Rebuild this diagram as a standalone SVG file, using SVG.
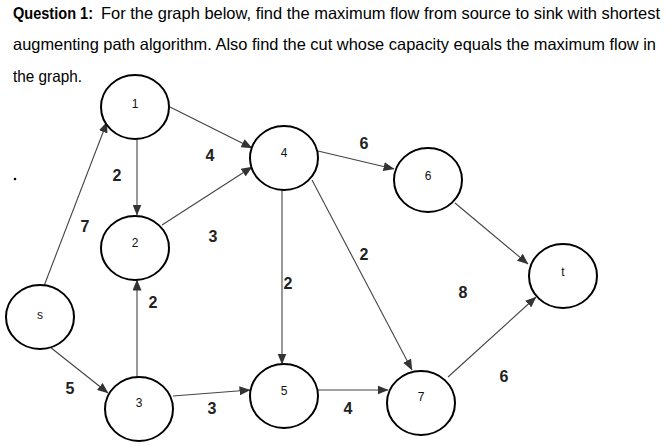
<svg xmlns="http://www.w3.org/2000/svg" width="668" height="446" viewBox="0 0 668 446">
<style>
.hd{font-family:"Liberation Sans Narrow","Liberation Sans",Arial,sans-serif;font-size:16.5px;fill:#000}
.node ellipse{fill:#fff;stroke:#000;stroke-width:2}
.node text{font-family:"Liberation Sans",Arial,sans-serif;font-size:12px;fill:#111;text-anchor:middle}
.edge line{stroke:#444;stroke-width:1.1;marker-end:url(#arr)}
.lbl{font-family:"Liberation Sans",Arial,sans-serif;font-size:16px;font-weight:bold;fill:#222;text-anchor:middle}
</style>
<defs>
<marker id="arr" markerUnits="userSpaceOnUse" markerWidth="11" markerHeight="9" refX="10.5" refY="4.5" orient="auto">
<path d="M0,0 L11,4.5 L0,9 z" fill="#333"/>
</marker>
</defs>
<rect width="668" height="446" fill="#fff"/>
<g id="header">
<text class="hd" x="13" y="19" font-weight="bold" textLength="80" lengthAdjust="spacingAndGlyphs">Question 1:</text>
<text class="hd" x="101" y="19" textLength="559" lengthAdjust="spacingAndGlyphs">For the graph below, find the maximum flow from source to sink with shortest</text>
<text class="hd" x="13" y="50" textLength="643" lengthAdjust="spacingAndGlyphs">augmenting path algorithm. Also find the cut whose capacity equals the maximum flow in</text>
<text class="hd" x="13" y="82" textLength="69" lengthAdjust="spacingAndGlyphs">the graph.</text>
<circle cx="15" cy="179" r="1.3" fill="#000"/>
</g>
<g id="connectors" class="edge">
<line x1="44" y1="286" x2="107" y2="122"/>
<line x1="137" y1="139" x2="137" y2="215"/>
<line x1="170" y1="107" x2="252" y2="148"/>
<line x1="162" y1="225" x2="252" y2="167"/>
<line x1="318" y1="151" x2="394" y2="169"/>
<line x1="455" y1="203" x2="528" y2="264"/>
<line x1="282" y1="190" x2="282" y2="364"/>
<line x1="312" y1="180" x2="412" y2="370"/>
<line x1="50" y1="347" x2="108" y2="393"/>
<line x1="137" y1="377" x2="137" y2="280"/>
<line x1="173" y1="396" x2="250" y2="390"/>
<line x1="318" y1="390" x2="388" y2="390"/>
<line x1="448" y1="377" x2="536" y2="297"/>
</g>
<g id="edge-labels">
<text class="lbl" x="85" y="232">7</text>
<text class="lbl" x="117" y="181">2</text>
<text class="lbl" x="210" y="161">4</text>
<text class="lbl" x="213" y="242">3</text>
<text class="lbl" x="364" y="149">6</text>
<text class="lbl" x="364" y="260">2</text>
<text class="lbl" x="288" y="289">2</text>
<text class="lbl" x="463" y="298">8</text>
<text class="lbl" x="153" y="308">2</text>
<text class="lbl" x="70" y="394">5</text>
<text class="lbl" x="212" y="414">3</text>
<text class="lbl" x="348" y="414">4</text>
<text class="lbl" x="504" y="382">6</text>
</g>
<g id="node-1" class="node"><ellipse cx="135" cy="107" rx="34" ry="32"/><text x="135" y="108">1</text></g>
<g id="node-2" class="node"><ellipse cx="135" cy="248" rx="34" ry="32"/><text x="135" y="247">2</text></g>
<g id="node-4" class="node"><ellipse cx="284" cy="158" rx="34" ry="32"/><text x="284" y="157">4</text></g>
<g id="node-6" class="node"><ellipse cx="428" cy="180" rx="34" ry="32"/><text x="428" y="180">6</text></g>
<g id="node-t" class="node"><ellipse cx="563" cy="276" rx="34" ry="32"/><text x="563" y="276">t</text></g>
<g id="node-s" class="node"><ellipse cx="40" cy="317" rx="34" ry="32"/><text x="40" y="319">s</text></g>
<g id="node-3" class="node"><ellipse cx="139" cy="409" rx="34" ry="32"/><text x="139" y="407">3</text></g>
<g id="node-5" class="node"><ellipse cx="284" cy="396" rx="34" ry="32"/><text x="284" y="395">5</text></g>
<g id="node-7" class="node"><ellipse cx="421" cy="403" rx="34" ry="32"/><text x="421" y="401">7</text></g>
</svg>
